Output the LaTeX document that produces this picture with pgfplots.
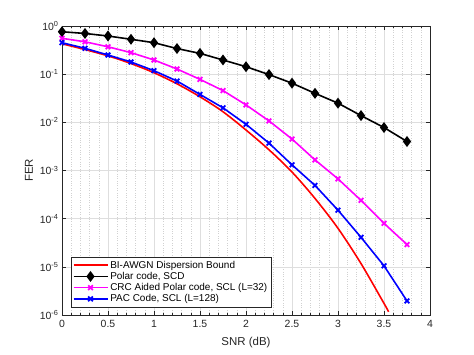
\documentclass[border=0pt]{standalone}
\usepackage{fontspec}
\setmainfont{Liberation Sans}
\usepackage{pgfplots}
\pgfplotsset{compat=1.18}
\definecolor{axgray}{RGB}{38,38,38}
\definecolor{mag}{RGB}{255,0,255}
\begin{document}
\begin{tikzpicture}
\begin{axis}[
  scale only axis,
  width=368bp, height=289bp,
  xmin=0, xmax=4, ymin=1e-6, ymax=1,
  ymode=log, log basis y=10,
  xtick={0,0.5,...,4},
  xticklabels={0,0.5,1,1.5,2,2.5,3,3.5,4},
  ytick={1e-6,1e-5,1e-4,1e-3,1e-2,1e-1,1},
  minor x tick num=4,
  grid=both,
  major grid style={draw=black!13, line width=0.5pt},
  minor grid style={draw=black!18, dotted, line width=0.4pt},
  axis line style={draw=axgray, line width=0.6pt},
  tick style={draw=axgray, line width=0.5pt},
  major tick length=4bp, minor tick length=2bp,
  tick align=inside,
  tick label style={font=\fontsize{10.5}{12}\selectfont, text=axgray},
  xticklabel style={yshift=-1.5bp},
  /pgf/number format/assume math mode=true,
  yticklabel={10\textsuperscript{\pgfmathprintnumber[int detect]{\tick}}},
  xlabel={SNR (dB)},
  ylabel={FER},
  label style={font=\fontsize{11.5}{13}\selectfont, text=axgray},
  xlabel style={yshift=-3bp},
  ylabel style={yshift=0bp},
  legend cell align=left,
  legend style={at={(0.0245,0.028)}, anchor=south west, draw=axgray, fill=white,
    font=\fontsize{10}{12}\selectfont, inner sep=1.5pt, row sep=-1.5pt,
    /tikz/every even column/.append style={column sep=2pt}},
  legend image code/.code={\draw[#1] (0bp,0bp) -- (17bp,0bp) plot coordinates {(17bp,0bp)} -- (34bp,0bp);},
]
\addplot[red, line width=1.6pt, smooth] coordinates {
(0,0.427) (0.25,0.324) (0.5,0.240) (0.75,0.166) (1,0.107) (1.25,0.0631)
(1.5,0.0339) (1.75,0.0166) (2,0.00692) (2.25,0.00269) (2.5,9.3e-4)
(2.75,2.63e-4) (3,6.3e-5) (3.25,1.17e-5) (3.5,1.74e-6) (3.55,1.17e-6)};
\addlegendentry{BI-AWGN Dispersion Bound}
\addplot[black, line width=1.6pt, mark=diamond*, mark size=4.2pt, mark options={solid, fill=black}] coordinates {
(0,0.76) (0.25,0.70) (0.5,0.62) (0.75,0.53) (1,0.45) (1.25,0.34) (1.5,0.27)
(1.75,0.197) (2,0.143) (2.25,0.098) (2.5,0.065) (2.75,0.040) (3,0.025)
(3.25,0.0138) (3.5,0.0078) (3.75,0.0040)};
\addlegendentry{Polar code, SCD}
\addplot[mag, line width=1.6pt, mark=x, mark size=3.3pt, mark options={solid, line width=1.8pt}] coordinates {
(0,0.555) (0.25,0.47) (0.5,0.37) (0.75,0.28) (1,0.197) (1.25,0.128) (1.5,0.078)
(1.75,0.0456) (2,0.023) (2.25,0.0107) (2.5,0.0045) (2.75,0.00166) (3,6.7e-4)
(3.25,2.4e-4) (3.5,8.0e-5) (3.75,2.9e-5)};
\addlegendentry{CRC Aided Polar code, SCL (L=32)}
\addplot[blue, line width=1.6pt, mark=x, mark size=3.3pt, mark options={solid, line width=1.8pt}] coordinates {
(0,0.45) (0.25,0.344) (0.5,0.25) (0.75,0.179) (1,0.118) (1.25,0.072) (1.5,0.038)
(1.75,0.020) (2,0.0091) (2.25,0.0037) (2.5,0.00131) (2.75,4.9e-4) (3,1.5e-4)
(3.25,4.1e-5) (3.5,1.05e-5) (3.75,1.96e-6)};
\addlegendentry{PAC Code, SCL (L=128)}
\coordinate (BL) at (rel axis cs:0,0);
\coordinate (TR) at (rel axis cs:1,1);
\end{axis}
\pgfresetboundingbox
\path[use as bounding box] ([shift={(-62bp,-40bp)}]BL) rectangle ([shift={(44bp,26bp)}]TR);
\end{tikzpicture}
\end{document}
